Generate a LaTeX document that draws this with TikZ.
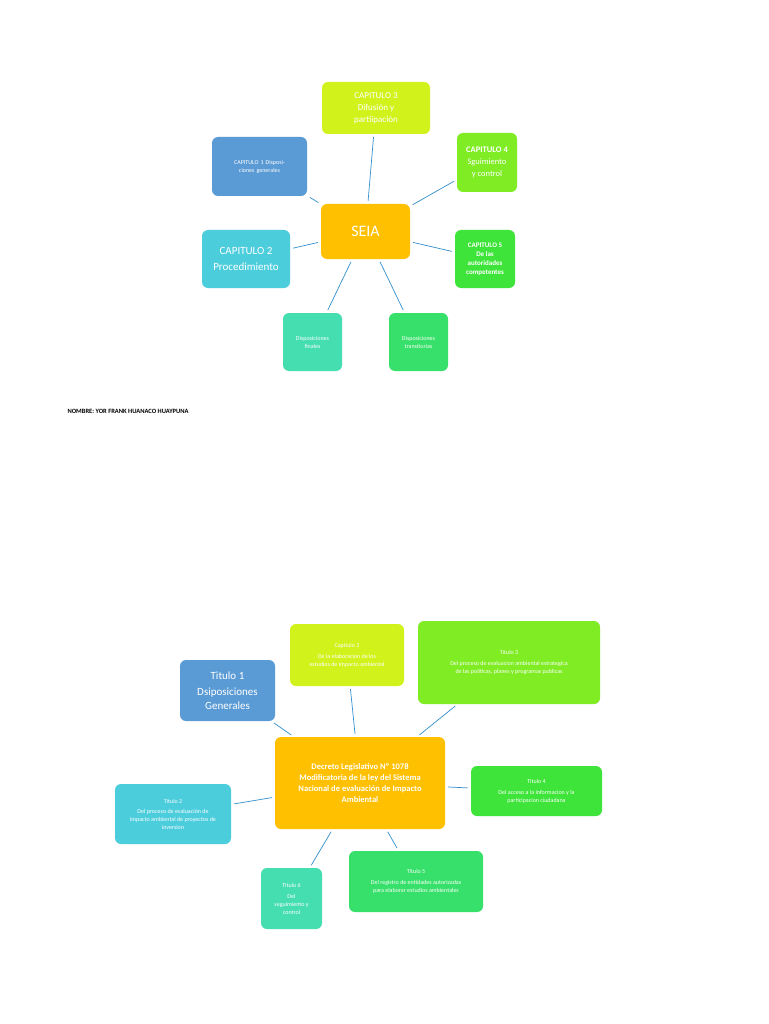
\documentclass[tikz,border=0pt]{standalone}
\usepackage{fontspec}
\setmainfont{Carlito}
\begin{document}
\begin{tikzpicture}[x=1pt,y=-1pt,
 box/.style={rounded corners=6pt,text=white,align=center,inner sep=2pt},
 lnk/.style={draw=blue!40!cyan!60!gray,line width=0.7pt,shorten <=3pt,shorten >=3pt}]
\fill[white] (0,0) rectangle (768,1024);
\definecolor{cyel}{HTML}{D2F21C}
\definecolor{cblu}{HTML}{5B9BD5}
\definecolor{clim}{HTML}{7FEC24}
\definecolor{corg}{HTML}{FFC000}
\definecolor{ccya}{HTML}{4CCDDC}
\definecolor{cgrn}{HTML}{3FE43A}
\definecolor{ctea}{HTML}{45DEB0}
\definecolor{cmed}{HTML}{37E06A}
% top
\node[box,fill=cyel,minimum width=108,minimum height=52,font=\fontsize{9}{12}\selectfont] (c3) at (376,108) {CAPITULO 3\\Difusión y\\partiipación};
\node[box,fill=cblu,minimum width=95,minimum height=59,text width=88,font=\fontsize{6}{8}\selectfont] (c1) at (259.5,166.5) {CAPITULO 1 Disposiciones generales};
\node[box,fill=clim,minimum width=60,minimum height=59,font=\fontsize{8.5}{12}\selectfont] (c4) at (487,162.5) {\textbf{CAPITULO 4}\\Sguimiento\\y control};
\node[box,fill=corg,minimum width=89,minimum height=55,font=\fontsize{16}{18}\selectfont] (seia) at (365.5,231.5) {SEIA};
\node[box,fill=ccya,minimum width=88,minimum height=58,font=\fontsize{11}{16}\selectfont] (c2) at (246,259) {CAPITULO 2\\Procedimiento};
\node[box,fill=cgrn,minimum width=60,minimum height=58,font=\fontsize{7}{9}\selectfont\bfseries] (c5) at (485,259) {CAPITULO 5\\De las\\autoridades\\competentes};
\node[box,fill=ctea,minimum width=59,minimum height=58,font=\fontsize{6}{8}\selectfont] (df) at (312.5,342) {Disposiciones\\finales};
\node[box,fill=cmed,minimum width=59,minimum height=58,font=\fontsize{6}{8}\selectfont] (dt) at (418.5,342) {Disposiciones\\transitorias};
\foreach \n in {c3,c1,c4,c2,c5,df,dt} \draw[lnk] (seia) -- (\n);
\node[anchor=west,font=\fontsize{6.5}{8}\selectfont\bfseries] (nom) at (64,411) {NOMBRE: YOR FRANK HUANACO HUAYPUNA};
% bottom
\node[box,fill=cblu,minimum width=95,minimum height=61,font=\fontsize{11}{14}\selectfont] (t1) at (227.5,690.5) {Titulo 1\\[2pt]Dsiposiciones\\Generales};
\node[box,fill=cyel,minimum width=114,minimum height=62,font=\fontsize{6}{8}\selectfont] (k3) at (347,655) {Capitulo 3\\[3pt]De la elaboracion de los\\estudios de impacto ambiental};
\node[box,fill=clim,minimum width=182,minimum height=83,font=\fontsize{6}{8}\selectfont] (t3) at (509,662.5) {Titulo 3\\[3pt]Del proceso de evaluacion ambiental estrategica\\de las politicas, planes y programas publicas};
\node[box,fill=corg,minimum width=170,minimum height=92,font=\fontsize{8.5}{11}\selectfont\bfseries] (dec) at (360,783) {Decreto Legislativo Nº 1078\\Modificatoria de la ley del Sistema\\Nacional de evaluación de Impacto\\Ambiental};
\node[box,fill=cgrn,minimum width=131,minimum height=50,font=\fontsize{6}{8}\selectfont] (t4) at (536.5,791) {Titulo 4\\[3pt]Del acceso a la informacion y la\\participacion ciudadana};
\node[box,fill=ccya,minimum width=116,minimum height=60,font=\fontsize{6}{8}\selectfont] (t2) at (173,814) {Titulo 2\\[2pt]Del proceso de evaluación de\\impacto ambiental de proyectos de\\inversion};
\node[box,fill=cmed,minimum width=134,minimum height=61,font=\fontsize{6}{8}\selectfont] (t5) at (416,881.5) {Titulo 5\\[3pt]Del registro de entidades autorizadas\\para elaborar estudios ambientales};
\node[box,fill=ctea,minimum width=61,minimum height=61,font=\fontsize{6}{8}\selectfont] (t6) at (291.5,898.5) {Titulo 6\\[3pt]Del\\seguimiento y\\control};
\foreach \n in {t1,k3,t3,t4,t2,t5,t6} \draw[lnk] (dec) -- (\n);
\end{tikzpicture}
\end{document}
